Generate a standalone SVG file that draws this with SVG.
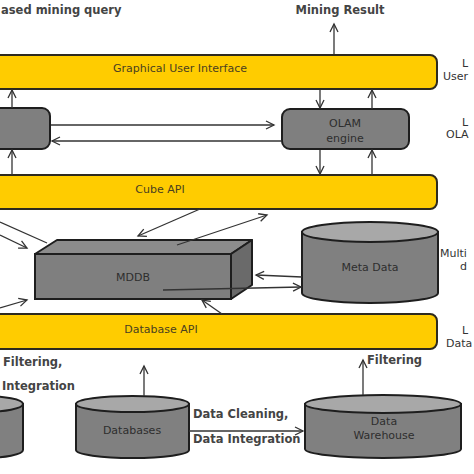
<svg xmlns="http://www.w3.org/2000/svg" width="474" height="474" viewBox="0 0 474 474">
<defs>
<marker id="ah" markerUnits="userSpaceOnUse" markerWidth="12" markerHeight="12" refX="9" refY="5" orient="auto" viewBox="0 0 12 10">
<path d="M1,1 L9,5 L1,9" fill="none" stroke="#333" stroke-width="1.3"/>
</marker>
</defs>
<style>
text{font-family:"DejaVu Sans","Liberation Sans",sans-serif;fill:#3a3a3a}
.t{font-size:11.5px;font-weight:bold;fill:#444}
.bar{fill:#FFCC00;stroke:#2e2a1e;stroke-width:2}
.bt{font-size:11px;text-anchor:middle;fill:#4a3f20}
.box{fill:#7f7f7f;stroke:#1e1e1e;stroke-width:2}
.cyl{fill:#808080;stroke:#1e1e1e;stroke-width:2}
.cylt{fill:#a8a8a8;stroke:#1e1e1e;stroke-width:2}
.nt{font-size:11px;text-anchor:middle;fill:#2e2e2e}
.c line,.c path{stroke:#333;stroke-width:1.3;fill:none}
.g line{stroke:#555;stroke-width:1.2}
.side{font-size:11px;fill:#333}
</style>

<text class="t" x="1" y="14">ased mining query</text>
<text class="t" x="340" y="14" text-anchor="middle">Mining Result</text>

<g id="gui"><rect class="bar" x="-10" y="55" width="447" height="34" rx="7"/><text class="bt" x="180" y="72">Graphical User Interface</text></g>
<g id="cube"><rect class="bar" x="-10" y="175" width="447" height="34" rx="7"/><text class="bt" x="160" y="193">Cube API</text></g>
<g id="dbapi"><rect class="bar" x="-10" y="314" width="447" height="35" rx="7"/><text class="bt" x="161" y="333">Database API</text></g>

<g id="olap"><rect class="box" x="-20" y="108" width="70" height="41" rx="8"/></g>
<g id="olam"><rect class="box" x="282" y="109" width="127" height="40" rx="8"/><text class="nt" x="345" y="127">OLAM</text><text class="nt" x="345" y="142">engine</text></g>

<g id="mddb">
<polygon points="35,254 57,240 252,240 231,254" fill="#8c8c8c" stroke="#1e1e1e" stroke-width="2" stroke-linejoin="round"/>
<polygon points="231,254 252,240 252,285 231,299" fill="#6a6a6a" stroke="#1e1e1e" stroke-width="2" stroke-linejoin="round"/>
<rect x="35" y="254" width="196" height="45" fill="#7f7f7f" stroke="#1e1e1e" stroke-width="2"/>
<text class="nt" x="133" y="281">MDDB</text>
</g>

<g id="metadata">
<path class="cyl" d="M302,232 L302,293 A68,10 0 0 0 438,293 L438,232 Z"/>
<ellipse class="cylt" cx="370" cy="232" rx="68" ry="10"/>
<text class="nt" x="370" y="271">Meta Data</text>
</g>

<g id="leftdb">
<path class="cyl" d="M-59,404 L-59,450 A41,8 0 0 0 23,450 L23,404 Z"/>
<ellipse class="cylt" cx="-18" cy="404" rx="41" ry="8"/>
</g>

<g id="databases">
<path class="cyl" d="M76,404 L76,450 A56.5,8 0 0 0 189,450 L189,404 Z"/>
<ellipse class="cylt" cx="132.5" cy="404" rx="56.5" ry="8"/>
<text class="nt" x="132" y="434">Databases</text>
</g>

<g id="warehouse">
<path class="cyl" d="M305,404 L305,449 A78,9 0 0 0 461,449 L461,404 Z"/>
<ellipse class="cylt" cx="383" cy="404" rx="78" ry="9"/>
<text class="nt" x="384" y="425">Data</text>
<text class="nt" x="384" y="439">Warehouse</text>
</g>

<g id="connectors" class="c">
<line x1="334" y1="54" x2="334" y2="24" marker-end="url(#ah)"/>
<line x1="12" y1="108" x2="12" y2="90" marker-end="url(#ah)"/>
<line x1="12" y1="175" x2="12" y2="150" marker-end="url(#ah)"/>
<line x1="51" y1="125" x2="274" y2="125" marker-end="url(#ah)"/>
<line x1="282" y1="141" x2="52" y2="141" marker-end="url(#ah)"/>
<line x1="320" y1="90" x2="320" y2="108" marker-end="url(#ah)"/>
<line x1="372" y1="109" x2="372" y2="90" marker-end="url(#ah)"/>
<line x1="320" y1="150" x2="320" y2="174" marker-end="url(#ah)"/>
<line x1="372" y1="175" x2="372" y2="150" marker-end="url(#ah)"/>
<line x1="200" y1="209" x2="138" y2="236" marker-end="url(#ah)"/>
<line x1="177" y1="245" x2="267" y2="215" marker-end="url(#ah)"/>
<line x1="0" y1="222" x2="47" y2="243"/>
<line x1="0" y1="235" x2="27" y2="248" marker-end="url(#ah)"/>
<line x1="0" y1="308" x2="27" y2="300" marker-end="url(#ah)"/>
<line x1="222" y1="314" x2="202" y2="300" marker-end="url(#ah)"/>
<line x1="302" y1="277" x2="256" y2="275" marker-end="url(#ah)"/>
<line x1="163" y1="290" x2="301" y2="287" marker-end="url(#ah)"/>
<line x1="144" y1="396" x2="144" y2="366" marker-end="url(#ah)"/>
<line x1="363" y1="395" x2="363" y2="360" marker-end="url(#ah)"/>
<line x1="189" y1="431" x2="303" y2="431" marker-end="url(#ah)"/>
</g>

<text class="t" x="3" y="366">Filtering,</text>
<text class="t" x="2" y="390">Integration</text>
<text class="t" x="193" y="418">Data Cleaning,</text>
<text class="t" x="193" y="443">Data Integration</text>
<text class="t" x="367" y="364">Filtering</text>

<text class="side" x="462" y="67">L</text>
<text class="side" x="443" y="80">User</text>
<text class="side" x="462" y="126">L</text>
<text class="side" x="446" y="138">OLA</text>
<text class="side" x="440" y="257">Multi</text>
<text class="side" x="460" y="270">d</text>
<text class="side" x="462" y="334">L</text>
<text class="side" x="446" y="347">Data</text>
</svg>
